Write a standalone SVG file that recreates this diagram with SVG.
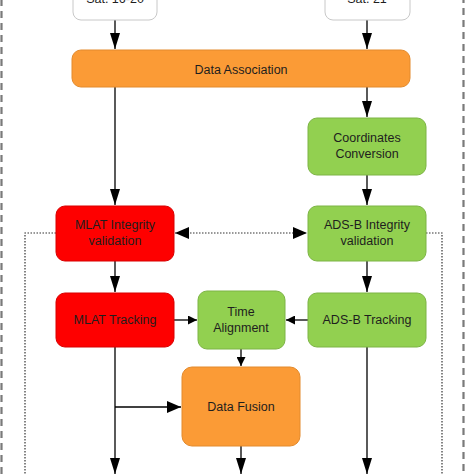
<svg xmlns="http://www.w3.org/2000/svg" width="474" height="474" viewBox="0 0 474 474">
<defs>
<style>
.t{font-family:"Liberation Sans",Arial,sans-serif;font-size:12.5px;fill:#1e1e1e;text-anchor:middle}
.w{fill:#fff;stroke:#c8c8c8;stroke-width:1}
.o{fill:#fb9b36;stroke:#e38a2c;stroke-width:1}
.g{fill:#92d050;stroke:#7db445;stroke-width:1}
.r{fill:#fe0000;stroke:#d80000;stroke-width:1}
.ln{stroke:#000;stroke-width:1.3;fill:none}
.dt{stroke:#333;stroke-width:1.2;fill:none;stroke-dasharray:1.5 1.5}
</style>
<marker id="bigv" viewBox="0 0 16 10" refX="16" refY="5" markerWidth="16" markerHeight="10" markerUnits="userSpaceOnUse" orient="auto"><path d="M0,0L16,5L0,10z" fill="#000"/></marker>
<marker id="sm" viewBox="0 0 10 10" refX="10" refY="5" markerWidth="9" markerHeight="9" markerUnits="userSpaceOnUse" orient="auto"><path d="M0,0L10,5L0,10z" fill="#000"/></marker>
<marker id="dh" viewBox="0 0 14 12" refX="14" refY="6" markerWidth="14" markerHeight="12" markerUnits="userSpaceOnUse" orient="auto-start-reverse"><path d="M0,0L14,6L0,12z" fill="#000"/></marker>
</defs>
<rect x="1.5" y="-10" width="462" height="500" fill="none" stroke="#7a7a7a" stroke-width="2.2" stroke-dasharray="7 5"/>
<g id="connectors">
<path class="ln" d="M115,20V49" marker-end="url(#bigv)"/>
<path class="ln" d="M367,20V49" marker-end="url(#bigv)"/>
<path class="ln" d="M115,87V205" marker-end="url(#bigv)"/>
<path class="ln" d="M367,87V117" marker-end="url(#bigv)"/>
<path class="ln" d="M367,175V205" marker-end="url(#bigv)"/>
<path class="ln" d="M115,261V292" marker-end="url(#bigv)"/>
<path class="ln" d="M367,261V292" marker-end="url(#bigv)"/>
<path class="ln" d="M174,320H197" marker-end="url(#sm)"/>
<path class="ln" d="M308,320H286" marker-end="url(#sm)"/>
<path class="ln" d="M241,349V366" marker-end="url(#sm)"/>
<path class="ln" d="M115,347V474" marker-end="url(#bigv)"/>
<path class="ln" d="M115,407H181" marker-end="url(#dh)"/>
<path class="ln" d="M241,446V474" marker-end="url(#bigv)"/>
<path class="ln" d="M367,347V474" marker-end="url(#bigv)"/>
<path class="dt" d="M175,233H307" marker-start="url(#dh)" marker-end="url(#dh)"/>
<path class="dt" d="M56,233H25V474"/>
<path class="dt" d="M426,233H442V474"/>
</g>
<g id="sat1620"><rect class="w" x="73" y="-20" width="84" height="40" rx="8"/><text class="t" x="115" y="3">Sat. 16-20</text></g>
<g id="sat21"><rect class="w" x="325" y="-20" width="85" height="40" rx="8"/><text class="t" x="367" y="3">Sat. 21</text></g>
<g id="assoc"><rect class="o" x="72" y="50" width="338" height="37" rx="9"/><text class="t" x="241" y="73.5">Data Association</text></g>
<g id="coord"><rect class="g" x="308" y="118" width="118" height="57" rx="9"/><text class="t" x="367" y="142">Coordinates</text><text class="t" x="367" y="158">Conversion</text></g>
<g id="mlatint"><rect class="r" x="56" y="206" width="118" height="55" rx="9"/><text class="t" x="115" y="229">MLAT Integrity</text><text class="t" x="115" y="245">validation</text></g>
<g id="adsbint"><rect class="g" x="308" y="206" width="118" height="55" rx="9"/><text class="t" x="367" y="229">ADS-B Integrity</text><text class="t" x="367" y="245">validation</text></g>
<g id="mlattrk"><rect class="r" x="56" y="293" width="118" height="54" rx="9"/><text class="t" x="115" y="324">MLAT Tracking</text></g>
<g id="timealign"><rect class="g" x="198" y="291" width="87" height="58" rx="9"/><text class="t" x="241" y="316">Time</text><text class="t" x="241" y="332">Alignment</text></g>
<g id="adsbtrk"><rect class="g" x="308" y="293" width="118" height="54" rx="9"/><text class="t" x="367" y="324">ADS-B Tracking</text></g>
<g id="fusion"><rect class="o" x="182" y="367" width="118" height="79" rx="10"/><text class="t" x="241" y="411">Data Fusion</text></g>
</svg>
